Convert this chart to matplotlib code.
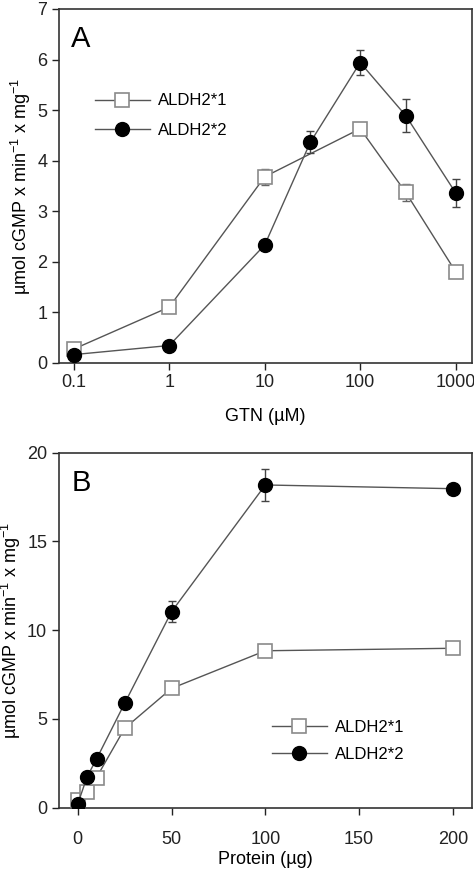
import matplotlib
matplotlib.use("Agg")
import matplotlib.pyplot as plt
from matplotlib.ticker import FixedLocator, FixedFormatter, NullLocator

plt.rcParams['font.family'] = ['Liberation Sans', 'DejaVu Sans']
plt.rcParams['mathtext.default'] = 'regular'

# Panel A: GTN dose response
gtn_sq = [0.1, 1, 10, 100, 300, 1000]
aldh1_a = [0.27, 1.10, 3.68, 4.63, 3.37, 1.80]
aldh1_a_err = [0.05, 0.05, 0.16, 0.06, 0.17, 0.05]
gtn_ci = [0.1, 1, 10, 30, 100, 300, 1000]
aldh2_a = [0.16, 0.34, 2.33, 4.36, 5.94, 4.89, 3.36]
aldh2_a_err = [0.03, 0.03, 0.04, 0.22, 0.24, 0.32, 0.27]

# Panel B: protein dependence
prot = [0, 5, 10, 25, 50, 100, 200]
aldh1_b = [0.42, 0.90, 1.70, 4.47, 6.72, 8.84, 8.98]
aldh1_b_err = [0.05, 0.1, 0.1, 0.15, 0.2, 0.2, 0.25]
aldh2_b = [0.21, 1.75, 2.74, 5.88, 11.04, 18.18, 17.97]
aldh2_b_err = [0.05, 0.1, 0.1, 0.15, 0.6, 0.92, 0.2]

ylabel = r'µmol cGMP x min$^{-1}$ x mg$^{-1}$'
line_col = '#555555'
sq_edge = '#8a8a8a'

fig = plt.figure(figsize=(4.74, 8.71), dpi=100)
axA = fig.add_axes([0.1245, 0.5836, 0.8705, 0.4061])
axB = fig.add_axes([0.1245, 0.0727, 0.8705, 0.4076])


def draw(ax, x1, y1, e1, x2, y2, e2):
    ax.errorbar(x1, y1, yerr=e1, color=line_col, lw=1, ecolor='#666666',
                elinewidth=1, capsize=3, capthick=1, zorder=2, ls='none')
    ax.plot(x1, y1, '-s', color=line_col, lw=1, ms=10, mfc='white',
            mec=sq_edge, mew=1.2, label='ALDH2*1', zorder=3)
    ax.errorbar(x2, y2, yerr=e2, color=line_col, lw=1, ecolor='#444444',
                elinewidth=1, capsize=3, capthick=1, zorder=4, ls='none')
    ax.plot(x2, y2, '-o', color=line_col, lw=1, ms=10, mfc='black',
            mec='black', label='ALDH2*2', zorder=5)
    for s in ax.spines.values():
        s.set_color('#333333')
        s.set_linewidth(1.2)
    ax.tick_params(direction='out', length=5, width=1, labelsize=13,
                   colors='#222222', top=False, right=False)
    ax.set_ylabel(ylabel, fontsize=13, labelpad=3)


draw(axA, gtn_sq, aldh1_a, aldh1_a_err, gtn_ci, aldh2_a, aldh2_a_err)
axA.set_xscale('log')
axA.set_xlim(0.07, 1470)
axA.set_ylim(0, 7)
axA.xaxis.set_major_locator(FixedLocator([0.1, 1, 10, 100, 1000]))
axA.xaxis.set_major_formatter(FixedFormatter(['0.1', '1', '10', '100', '1000']))
axA.xaxis.set_minor_locator(NullLocator())
axA.set_yticks(range(0, 8))
axA.set_xlabel('GTN (µM)', fontsize=13, labelpad=12)
axA.text(0.03, 0.955, 'A', transform=axA.transAxes, fontsize=21,
         va='top', ha='left')
axA.legend(loc='upper left', bbox_to_anchor=(0.07, 0.78), frameon=False,
           fontsize=12, handlelength=3.3, handletextpad=0.5,
           labelspacing=0.85, borderaxespad=0)

draw(axB, prot, aldh1_b, aldh1_b_err, prot, aldh2_b, aldh2_b_err)
axB.set_xlim(-10, 210)
axB.set_ylim(0, 20)
axB.set_xticks([0, 50, 100, 150, 200])
axB.set_yticks([0, 5, 10, 15, 20])
axB.tick_params(axis='x', pad=12)
axB.set_xlabel('Protein (µg)', fontsize=13, labelpad=2)
axB.text(0.03, 0.955, 'B', transform=axB.transAxes, fontsize=21,
         va='top', ha='left')
axB.legend(loc='upper left', bbox_to_anchor=(0.5, 0.265), frameon=False,
           fontsize=12, handlelength=3.3, handletextpad=0.5,
           labelspacing=0.7, borderaxespad=0)

fig.savefig('out.png', dpi=100)
